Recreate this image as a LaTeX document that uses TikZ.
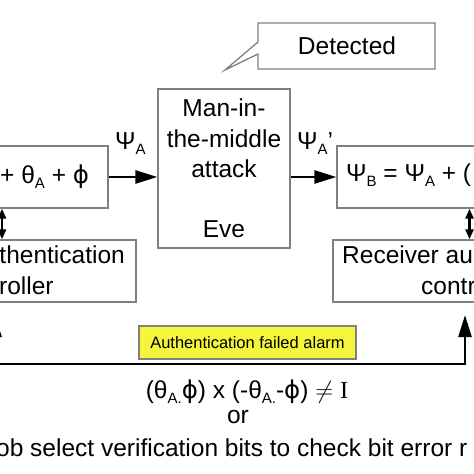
\documentclass[tikz,border=0pt]{standalone}
\usepackage{fontspec}
\setmainfont{Liberation Sans}
\newfontfamily\serifI{Liberation Serif}
\newfontfamily\phifont{DejaVu Sans}
\usetikzlibrary{arrows.meta}
\definecolor{boxgray}{RGB}{128,128,128}
\definecolor{alarmyellow}{RGB}{245,245,60}
\newcommand\lowidx[1]{\raisebox{-5bp}{\fontsize{15bp}{15bp}\selectfont #1}}
\newcommand\vphi{{\phifont ϕ}}

\begin{document}
\begin{tikzpicture}[x=1bp,y=-1bp,>={Triangle[length=22bp,width=13bp]},
  box/.style={draw=boxgray,line width=1.3bp,inner sep=0pt},
  txt/.style={inner sep=0pt,font=\fontsize{24.5bp}{31bp}\selectfont},
  sig/.style={line width=2.5bp,->},
  dbl/.style={line width=2.5bp,{Triangle[length=10bp,width=8bp]}-{Triangle[length=10bp,width=8bp]}}]
\useasboundingbox (0,0) rectangle (474,474);
\clip (0,0) rectangle (474,474);

% boxes
\node[box,minimum width=148bp,minimum height=62bp] (lbox) at (34,177) {};
\node[box,minimum width=132bp,minimum height=159bp] (eve) at (224,168.5) {};
\node[box,minimum width=183bp,minimum height=62bp] (rbox) at (428.5,177) {};
\node[box,minimum width=176bp,minimum height=62bp] (lctl) at (48,271) {};
\node[box,minimum width=187bp,minimum height=62bp] (rctl) at (426.5,271) {};
\node[box,fill=alarmyellow,minimum width=217bp,minimum height=33bp,font=\fontsize{16.5bp}{20bp}\selectfont] (alarm) at (247.5,342.5) {Authentication failed alarm};

% callout
\draw[draw=boxgray,line width=1.3bp] (258,42) -- (225,70) -- (258,54) -- (258,69) -- (435,69) -- (435,23) -- (258,23) -- cycle;
\node[txt,anchor=base] (det) at (347,55) {Detected};

% texts
\foreach \t/\y [count=\i] in {Man-in-/117, the-middle/148, attack/178, Eve/237}
    \node[txt,anchor=base] (eve\i) at (224,\y) {\t};
\node[txt,anchor=base west] (psiA) at (115,150) {Ψ\lowidx{A}};
\node[txt,anchor=base west] (psiAp) at (297,150) {Ψ\lowidx{A}’};
\node[txt,anchor=base west] (ltext) at (0,184) {+ θ\lowidx{A} + \vphi};
\node[txt,anchor=base west] (rtext) at (346,182) {Ψ\lowidx{B} = Ψ\lowidx{A} + (};
\node[txt,anchor=base west] (rc1) at (342,263) {Receiver au};
\node[txt,anchor=base west] (rc2) at (421,294) {contr};
\node[txt,anchor=base east] (lc1) at (125,263) {thentication};
\node[txt,anchor=base west] (lc2) at (-1,294) {roller};
\node[txt,anchor=base] (cond) at (247,398) {(θ\lowidx{A.}\vphi) x (-θ\lowidx{A.}-\vphi) $\neq$ {\serifI I}};
\node[txt,anchor=base] (or) at (238,423) {or};
\node[txt,anchor=base west] (verify) at (-4,456) {ob select verification bits to check bit error r};

% arrows
\draw[sig] (lbox.east) -- (lbox.east -| eve.west);
\draw[sig] (eve.east |- rbox.west) -- (rbox.west);
\coordinate (lx) at (2,0);
\coordinate (rx) at (469.5,0);
\draw[dbl] (lbox.south -| lx) -- (lctl.north -| lx);
\draw[dbl] (rbox.south -| rx) -- (rctl.north -| rx);
\coordinate (ltip) at (-5,315);
\coordinate (bl) at (-5,364);
\coordinate (br) at (465,364);
\coordinate (rtip) at (465,315);
\draw[line width=2.5bp,<->] (ltip) -- (bl) -- (br) -- (rtip);
\end{tikzpicture}
\end{document}
